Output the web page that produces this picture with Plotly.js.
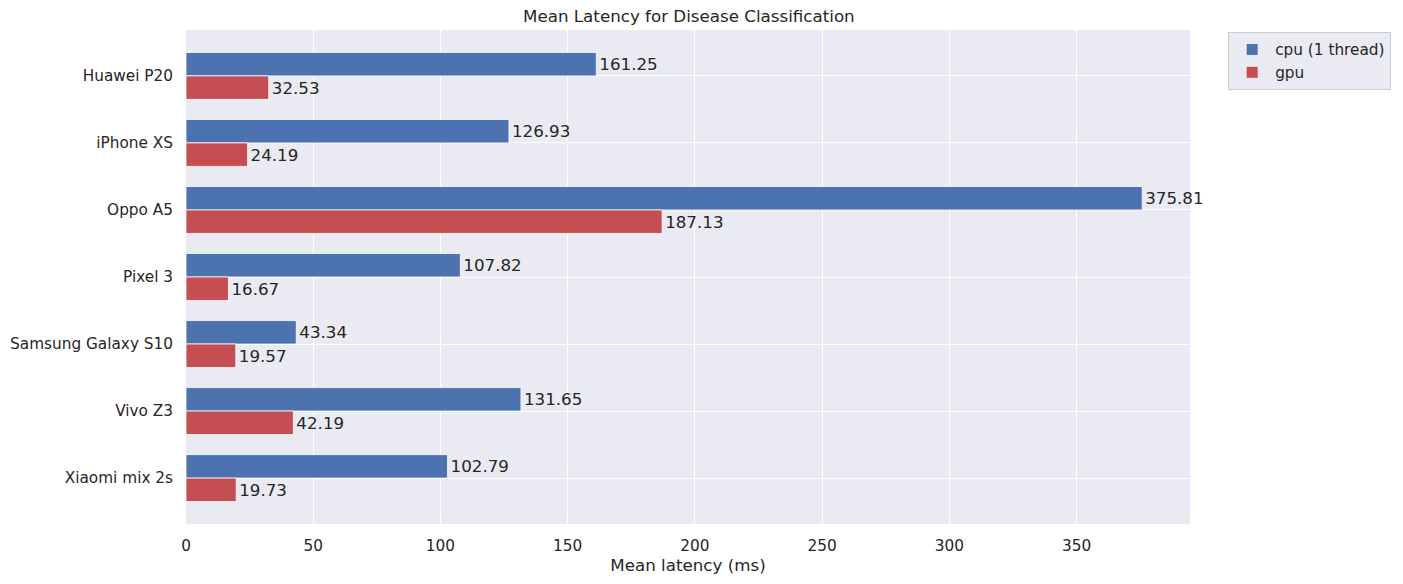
<!DOCTYPE html>
<html>
<head>
<meta charset="utf-8">
<script src="https://cdn.plot.ly/plotly-3.0.1.min.js"></script>
<style>html,body{margin:0;padding:0;background:#fff;}#chart{width:1403px;height:584px;}</style>
</head>
<body>
<div id="chart"></div>
<script>
const devices = ["Huawei P20", "iPhone XS", "Oppo A5", "Pixel 3", "Samsung Galaxy S10", "Vivo Z3", "Xiaomi mix 2s"];
const cpuLatency = [161.25, 126.93, 375.81, 107.82, 43.34, 131.65, 102.79];
const gpuLatency = [32.53, 24.19, 187.13, 16.67, 19.57, 42.19, 19.73];
const xTicks = [0, 50, 100, 150, 200, 250, 300, 350];

const font = "DejaVu Sans, sans-serif";
const textColor = "#262626";

const common = {
  type: "bar",
  orientation: "h",
  y: devices,
  texttemplate: "%{x:.2f}",
  textposition: "outside",
  textfont: {family: font, size: 16.7, color: textColor},
  cliponaxis: false,
  hoverinfo: "x+y"
};

const traces = [
  Object.assign({}, common, {name: "cpu (1 thread)", x: cpuLatency, marker: {color: "#4c72b0", line: {color: "#ffffff", width: 0.8}}}),
  Object.assign({}, common, {name: "gpu", x: gpuLatency, marker: {color: "#c44e52", line: {color: "#ffffff", width: 0.8}}})
];

const maxVal = Math.max.apply(null, cpuLatency.concat(gpuLatency));

const layout = {
  width: 1403, height: 584,
  margin: {l: 186, r: 213, t: 30, b: 60},
  paper_bgcolor: "#ffffff",
  plot_bgcolor: "#eaeaf2",
  barmode: "group",
  bargap: 0.3,
  bargroupgap: 0,
  font: {family: font, color: textColor, size: 15.3},
  title: {text: "Mean Latency for Disease Classification", font: {family: font, size: 16.7, color: textColor}, x: 0.491, xanchor: "center", y: 0.972, yanchor: "middle"},
  xaxis: {
    range: [0, maxVal * 1.05],
    tickvals: xTicks,
    showgrid: true, gridcolor: "#ffffff", gridwidth: 1.3,
    zeroline: false, showline: false,
    ticks: "", ticklen: 0,
    ticklabelstandoff: 11,
    tickfont: {family: font, size: 15.3, color: textColor},
    title: {text: "Mean latency (ms)", font: {family: font, size: 16.7, color: textColor}, standoff: 4}
  },
  yaxis: {
    type: "category",
    categoryorder: "array", categoryarray: devices,
    range: [6.685, -0.685],
    showgrid: true, gridcolor: "#ffffff", gridwidth: 1.3,
    zeroline: false, showline: false,
    ticks: "", ticklen: 0,
    ticklabelstandoff: 12,
    tickfont: {family: font, size: 15.3, color: textColor}
  },
  legend: {
    x: 1.038, xanchor: "left", y: 0.996, yanchor: "top",
    bgcolor: "#eaeaf2", bordercolor: "#cccccc", borderwidth: 1,
    font: {family: font, size: 15.3, color: textColor},
    itemwidth: 36,
    tracegroupgap: 0,
    traceorder: "normal"
  },
  showlegend: true
};

Plotly.newPlot("chart", traces, layout, {displayModeBar: false, responsive: false});
</script>
</body>
</html>
